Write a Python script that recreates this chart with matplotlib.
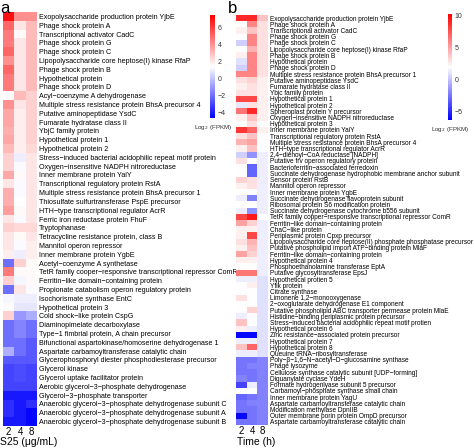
#!/usr/bin/env python3
import matplotlib
matplotlib.use("Agg")
import matplotlib.pyplot as plt
import numpy as np
from matplotlib.colors import LinearSegmentedColormap

plt.rcParams["font.family"] = ["Liberation Sans", "DejaVu Sans"]

# Panel a: S25 dose (2, 4, 8 ug/mL)
genes_a = [
    "Exopolysaccharide production protein YjbE",
    "Phage shock protein A",
    "Transcriptional activator CadC",
    "Phage shock protein G",
    "Phage shock protein C",
    "Lipopolysaccharide core heptose(I) kinase RfaP",
    "Phage shock protein B",
    "Hypothetical protein",
    "Phage shock protein D",
    "Acyl\u2212coenzyme A dehydrogenase",
    "Multiple stress resistance protein BhsA precursor 4",
    "Putative aminopeptidase YsdC",
    "Fumarate hydratase class II",
    "YbjC family protein",
    "Hypothetical protein 1",
    "Hypothetical protein 2",
    "Stress\u2212induced bacterial acidophilic repeat motif protein",
    "Oxygen\u2212insensitive NADPH nitroreductase",
    "Inner membrane protein YaiY",
    "Transcriptional regulatory protein RstA",
    "Multiple stress resistance protein BhsA precursor 1",
    "Thiosulfate sulfurtransferase PspE precursor",
    "HTH\u2212type transcriptional regulator AcrR",
    "Ferric iron reductase protein FhuF",
    "Tryptophanase",
    "Tetracycline resistance protein, class B",
    "Mannitol operon repressor",
    "Inner membrane protein YgbE",
    "Acetyl\u2212coenzyme A synthetase",
    "TetR family cooper\u2212responsive transcriptional repressor ComR",
    "Ferritin\u2212like domain\u2212containing protein",
    "Propionate catabolism operon regulatory protein",
    "Isochorismate synthase EntC",
    "Hypothetical protein 3",
    "Cold shock\u2212like protein CspG",
    "Diaminopimelate decarboxylase",
    "Type\u22121 fimbrial protein, A chain precursor",
    "Bifunctional aspartokinase/homoserine dehydrogenase 1",
    "Aspartate carbamoyltransferase catalytic chain",
    "Glycerophosphoryl diester phosphodiesterase precursor",
    "Glycerol kinase",
    "Glycerol uptake facilitator protein",
    "Aerobic glycerol\u22123\u2212phosphate dehydrogenase",
    "Glycerol\u22123\u2212phosphate transporter",
    "Anaerobic glycerol\u22123\u2212phosphate dehydrogenase subunit C",
    "Anaerobic glycerol\u22123\u2212phosphate dehydrogenase subunit A",
    "Anaerobic glycerol\u22123\u2212phosphate dehydrogenase subunit B",
]
a_2 = [7.0, 5.0, 4.5, 4.5, 5.0, 4.0, 5.0, 4.5, 4.5, 1.5, 4.0, 3.5, 3.5, 3.3, 3.5, 3.0,
       2.5, 2.5, 3.5, 2.0, 3.3, 3.3, 3.7, 2.0, 2.5, 2.0, 2.0, 1.8, -2.0, 4.5, 2.5, -2.0,
       1.2, 1.5, 2.5, -2.0, -2.0, -2.0, -0.5, -2.5, -3.0, -3.0, -3.0, -4.0, -3.5, -3.5, -4.0]
a_4 = [4.0, 2.0, 1.5, 2.0, 2.0, 2.0, 2.0, 2.0, 2.0, 3.0, 2.0, 1.8, 1.8, 1.8, 1.8, 1.8,
       1.0, 1.3, 1.5, 1.3, 1.3, 1.4, 1.5, 1.3, 2.3, 1.5, 1.3, 1.0, 2.5, 1.5, 1.2, 2.0,
       1.0, 0.8, -1.0, -1.5, -1.5, -2.0, -2.0, -2.5, -2.8, -2.8, -3.0, -4.0, -4.0, -4.0, -4.0]
a_8 = [4.0, 3.0, 3.0, 3.0, 3.0, 3.0, 3.0, 3.0, 3.0, 2.5, 2.5, 2.5, 2.5, 2.5, 2.5, 2.3,
       2.0, 2.0, 2.0, 2.0, 2.0, 2.0, 2.0, 2.0, 2.3, 2.0, 1.8, 1.8, 1.5, 1.5, 1.5, 1.3,
       1.0, 0.8, -0.5, -2.0, -2.0, -2.5, -2.5, -2.5, -3.0, -3.0, -3.0, -4.0, -3.5, -4.5, -4.5]

# Panel b: time (2, 4, 8 h)
genes_b = [
    "Exopolysaccharide production protein YjbE",
    "Phage shock protein A",
    "Transcriptional activator CadC",
    "Phage shock protein G",
    "Phage shock protein C",
    "Lipopolysaccharide core heptose(I) kinase RfaP",
    "Phage shock protein B",
    "Hypothetical protein",
    "Phage shock protein D",
    "Multiple stress resistance protein BhsA precursor 1",
    "Putative aminopeptidase YsdC",
    "Fumarate hydratase class II",
    "Ybjc family protein",
    "Hypothetical protein 1",
    "Hypothetical protein 2",
    "Spheroplast protein Y precursor",
    "Oxygen\u2212insensitive NADPH nitroreductase",
    "Hypothetical protein 3",
    "Inner membrane protein YaiY",
    "Transcriptional regulatory protein RstA",
    "Multiple stress resistance protein BhsA precursor 4",
    "HTH\u2212type transcriptional regulator AcrR",
    "2,4\u2212dienoyl\u2212CoA reductase [NADPH]",
    "Putative frv operon regulatory protein",
    "Bacterioferritin\u2212associated ferredoxin",
    "Succinate dehydrogenase hydrophobic membrane anchor subunit",
    "Sensor protein RstB",
    "Mannitol operon repressor",
    "Inner membrane protein YgbE",
    "Succinate dehydrogenase flavoprotein subunit",
    "Ribosomal protein S6 modification protein",
    "Succinate dehydrogenase cytochrome b556 subunit",
    "TetR family copper\u2212responsive transcriptional repressor ComR",
    "Ferritin\u2212like domain\u2212containing protein",
    "ChaC\u2212like protein",
    "Periplasmic protein Cpxp precursor",
    "Lipopolysaccharide core heptose(II) phosphate phosphatase precursor",
    "Putative phospholipid import ATP\u2212binding protein MlaF",
    "Ferritin\u2212like domain\u2212containing protein",
    "Hypothetical protein 4",
    "Phosphoethanolamine transferase EptA",
    "Putative glycosyltransferase EpsJ",
    "Hypothetical protien 5",
    "Yfik protein",
    "Citrate synthase",
    "Limonene 1,2\u2212monooxygenase",
    "2\u2212oxoglutarate dehydrogenase E1 component",
    "Putative phospholipid ABC transporter permease protein MlaE",
    "Histidine\u2212binding periplasmic protein precursor",
    "Stress\u2212induced bacterial acidophilic repeat motif protien",
    "Hypothetical protein 6",
    "Zinc resistance\u2212associated protein precursor",
    "Hypothetical protein 7",
    "Hypothetical protein 8",
    "Queuine tRNA\u2212ribosyltransferase",
    "Poly\u2212\u03b2\u22121,6\u2212N\u2212acetyl\u2212D\u2212glucosamine synthase",
    "Phage lysozyme",
    "Cellulose synthase catalytic subunit [UDP\u2212forming]",
    "Diguanylate cyclase YdeH",
    "Formate hydrogenlyase subunit 5 precursor",
    "Carbamoyl\u2212phosphate synthase small chain",
    "Inner membrane protein YagU",
    "Aspartate carbamoyltransferase catalytic chain",
    "Modification methylase DpnIIB",
    "Outer membrane porin protein OmpD precursor",
    "Aspartate carbamoyltransferase catalytic chain",
]
b_2 = [9.0, 2.0, 2.5, 2.0, 0.5, 2.0, 2.5, 1.0, 0.5, 6.0, 3.0, 2.5, 3.0, 8.0, 1.3, 6.5,
       2.5, 2.0, 8.5, 3.0, 4.5, 2.5, 0.5, 3.0, 2.0, 2.0, 3.5, 2.5, 2.0, 1.5, 2.0, 1.5,
       8.0, 5.0, 2.5, 2.5, 3.0, 2.5, 5.0, 2.5, 2.0, 6.5, 1.5, 2.0, 2.0, 3.0, 2.0, 2.0,
       1.5, 4.0, 2.5, -6.0, 1.5, 4.0, 1.5, -2.5, -2.5, -2.5, -2.0, -4.0, 2.0, -3.0,
       -2.5, -2.5, -6.0, -2.5]
b_4 = [9.0, 6.0, 4.0, 6.0, 6.0, 4.5, 6.0, 6.0, 6.0, 6.0, 3.5, 3.0, 3.0, 8.0, 3.0, 9.0,
       4.0, 3.0, 7.0, 4.0, 5.0, 4.0, -1.5, 2.0, -3.0, -3.0, 3.0, 3.0, 2.0, -2.0, 2.0, -1.5,
       9.5, 3.5, 2.5, 8.0, 4.5, 4.0, 3.5, 2.5, 2.0, 6.5, 1.5, 2.5, 2.0, 2.0, 2.0, 3.5,
       2.0, 2.0, 1.5, -6.0, 1.5, 7.0, 1.5, -2.5, -2.0, -2.5, -2.5, 1.5, 2.0, -2.5,
       -2.0, -2.5, -2.5, -2.5]
b_8 = [4.0, 3.0, 3.0, 3.0, 3.0, 3.0, 3.0, 3.0, 3.0, 3.0, 2.5, 2.5, 2.5, 2.5, 2.5, 2.5,
       2.5, 2.0, 2.5, 2.0, 2.0, 2.0, 1.5, 1.5, 1.5, 1.5, 1.5, 1.5, 1.5, 1.5, 1.5, 1.5,
       2.0, 1.5, 1.5, 1.5, 1.5, 1.5, 1.5, 1.5, 1.5, 1.5, 1.0, 1.0, 1.0, 1.0, 1.0, 1.0,
       1.0, 1.0, 1.0, 1.0, 1.0, 1.0, 1.0, -2.0, -2.0, -2.0, -2.0, -2.0, -2.0, -2.0,
       -2.0, -2.0, -2.0, -2.0]

col_labels = ["2", "4", "8"]

cmap = LinearSegmentedColormap.from_list("bwr3", ["#0000FF", "#FFFFFF", "#FF0000"])

fig = plt.figure(figsize=(4.74, 4.48), dpi=100)


def heat(rect, genes, cols, vmin, vmax, label_size):
    ax = fig.add_axes(rect)
    data = np.array(cols).T
    im = ax.pcolormesh(data, cmap=cmap, vmin=vmin, vmax=vmax)
    ax.set_ylim(len(genes), 0)
    ax.set_xlim(0, 3)
    ax.yaxis.tick_right()
    ax.set_yticks(np.arange(len(genes)) + 0.5)
    ax.set_yticklabels(genes, fontsize=label_size)
    ax.set_xticks(np.arange(3) + 0.5)
    ax.set_xticklabels(col_labels, fontsize=7)
    ax.tick_params(length=0, pad=1.5)
    ax.tick_params(axis="x", pad=1)
    for s in ax.spines.values():
        s.set_visible(False)
    return ax, im


ax_a, im_a = heat([3 / 474, 1 - 426 / 448, 34 / 474, 414 / 448],
                  genes_a, [a_2, a_4, a_8], -4.6, 7.4, 5.0)
ax_b, im_b = heat([236 / 474, 1 - 425 / 448, 32 / 474, 410 / 448],
                  genes_b, [b_2, b_4, b_8], -6.25, 10.3, 4.5)

# scale the row labels so the first one has the width seen in the figure
renderer = fig.canvas.get_renderer()
for ax, target in ((ax_a, 138.0), (ax_b, 124.0)):
    labs = ax.get_yticklabels()
    w = labs[0].get_window_extent(renderer).width
    size = labs[0].get_fontsize() * target / w
    for t in labs:
        t.set_fontsize(size)

fig.text(0 / 474, 1 - 447 / 448, "S25 (\u03bcg/mL)", fontsize=7.5, ha="left", va="bottom")
fig.text(237 / 474, 1 - 447 / 448, "Time (h)", fontsize=7.5, ha="left", va="bottom")

fig.text(0 / 474, 1 - 1 / 448, "a", fontsize=12, ha="left", va="top")
fig.text(228 / 474, 1 - 1 / 448, "b", fontsize=12, ha="left", va="top")

# colour bars
cax_a = fig.add_axes([210 / 474, 1 - 118 / 448, 5 / 474, 103 / 448])
cb_a = fig.colorbar(im_a, cax=cax_a, ticks=[-4, -2, 0, 2, 4, 6])
cax_b = fig.add_axes([448 / 474, 1 - 120 / 448, 4 / 474, 106 / 448])
cb_b = fig.colorbar(im_b, cax=cax_b, ticks=[-5, 0, 5, 10])
for cb in (cb_a, cb_b):
    cb.outline.set_visible(False)
    cb.ax.tick_params(length=0, labelsize=5, pad=2, labelcolor="#333333")
    cb.set_ticklabels([str(int(v)).replace("-", "\u2212") for v in cb.get_ticks()])

fig.text(213 / 474, 1 - 128 / 448, "Log$_2$ (FPKM)", fontsize=4.5, ha="center",
         va="center", color="#333333")
fig.text(450 / 474, 1 - 129 / 448, "Log$_2$ (FPKM)", fontsize=4.5, ha="center",
         va="center", color="#333333")

fig.savefig("out.png", dpi=100)
